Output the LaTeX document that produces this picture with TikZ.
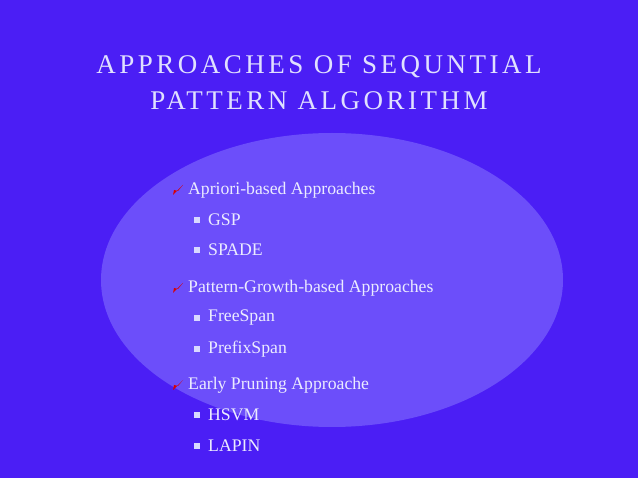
\documentclass[tikz,border=0pt]{standalone}
\usepackage{fontspec}
\setmainfont{Liberation Serif}
\newfontfamily\titlefont[LetterSpace=13]{Liberation Serif}
\begin{document}
\begin{tikzpicture}[x=1pt,y=-1pt,
  lone/.style={anchor=west,text=white!92!blue,font=\fontsize{17.7}{20}\selectfont,inner sep=0pt},
  ltwo/.style={anchor=west,text=white!92!blue,font=\fontsize{17.7}{20}\selectfont,inner sep=0pt},
  sq/.style={fill=white!85!blue,minimum size=5.5pt,inner sep=0pt}]
\fill[fill={rgb,255:red,75;green,30;blue,245}] (0,0) rectangle (638,478);
\useasboundingbox (0,0) rectangle (638,478);
\fill[fill={rgb,255:red,108;green,78;blue,250}] (332,280) ellipse [x radius=231, y radius=147];
\node[text=white!88!blue,font=\titlefont\fontsize{27}{36}\selectfont,align=center] (title) at (319,83)
  {APPROACHES OF SEQUNTIAL\\PATTERN ALGORITHM};
\foreach \y/\t [count=\i] in {190/Apriori-based Approaches,288/Pattern-Growth-based Approaches,385/Early Pruning Approache}{
  \node[lone] (h\i) at (188,\y) {\t};
  \fill[red!85!black] (173,\y+5) -- (183,\y-5) -- (178,\y+1) -- (174,\y) -- cycle;
}
\foreach \y/\t [count=\i] in {220/GSP,250/SPADE,318/FreeSpan,349/PrefixSpan,415/HSVM,446/LAPIN}{
  \node[sq] (s\i) at (197,\y) {};
  \node[ltwo] (t\i) at (208,\y) {\t};
}
\end{tikzpicture}
\end{document}
